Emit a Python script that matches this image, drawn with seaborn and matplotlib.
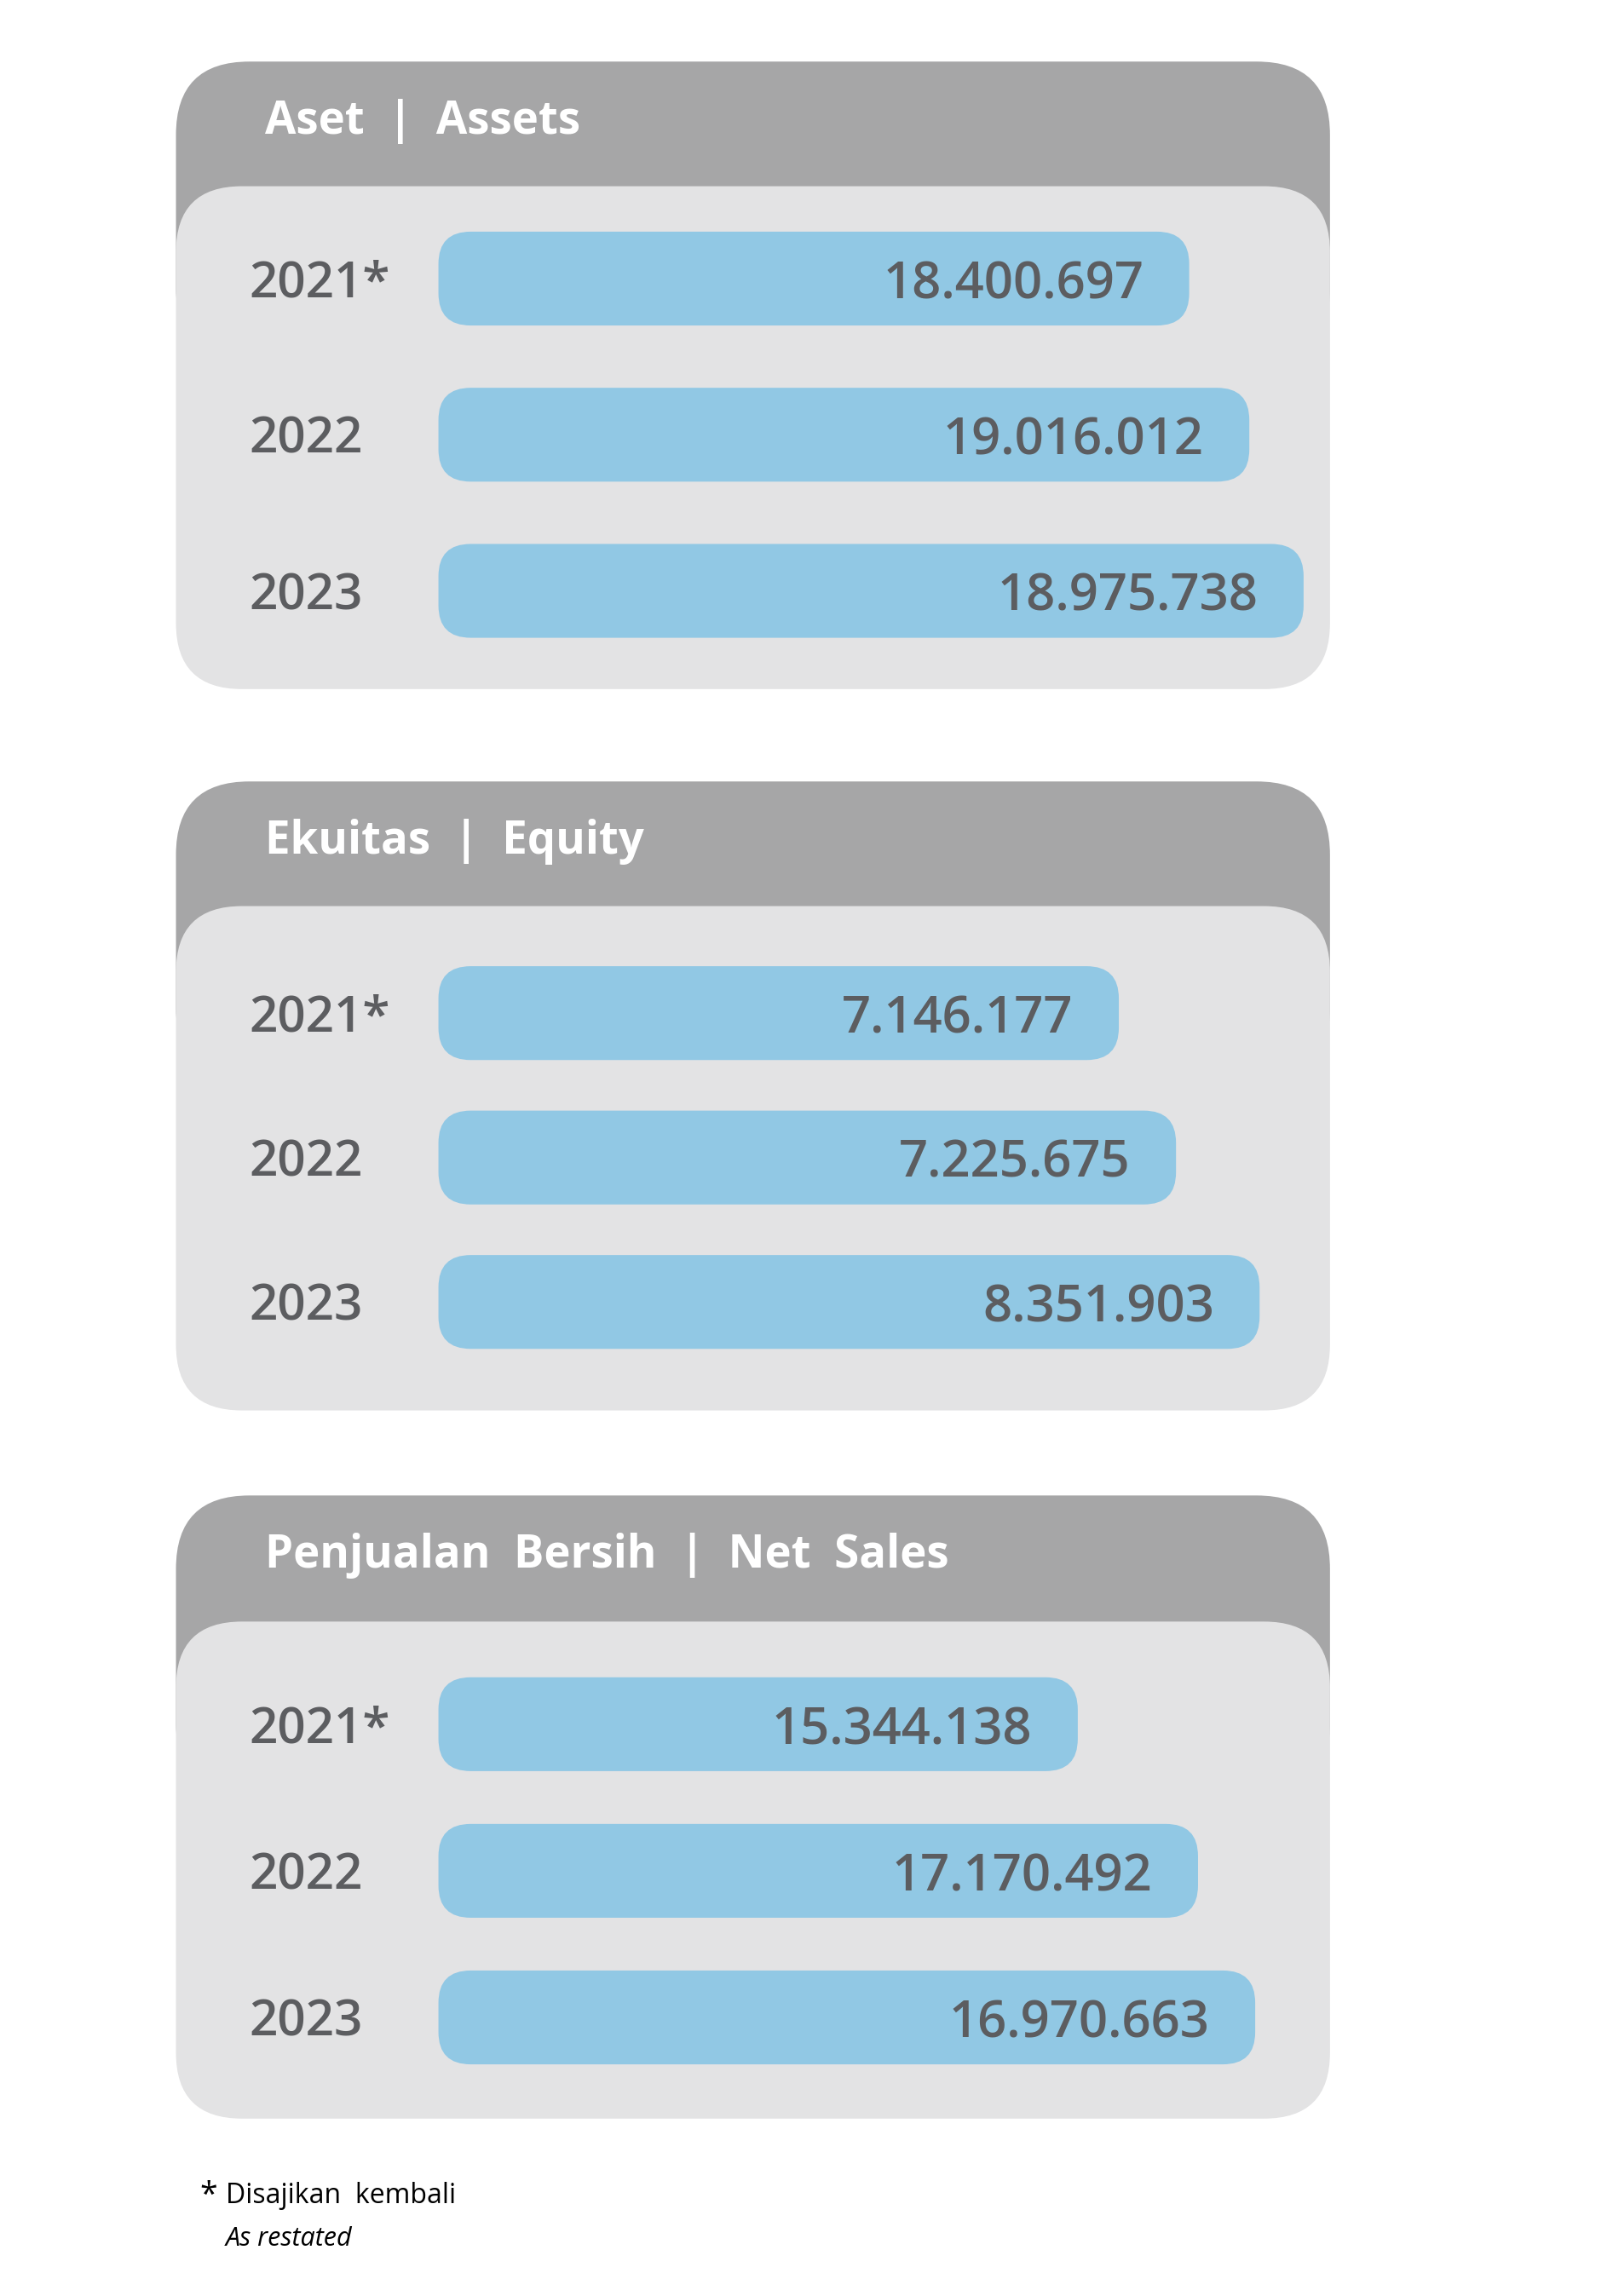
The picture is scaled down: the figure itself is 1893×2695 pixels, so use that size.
# ==========================================================
# Ikhtisar Keuangan | Financial Highlights (3 panels)
# ==========================================================

import matplotlib
matplotlib.use("Agg")
import matplotlib.pyplot as plt
from matplotlib.patches import FancyBboxPatch
import seaborn as sns

# ----------------------------------------------------------
# Data
# ----------------------------------------------------------
years = ["2021*", "2022", "2023"]

assets = ["18.400.697", "19.016.012", "18.975.738"]
equity = ["7.146.177", "7.225.675", "8.351.903"]
net_sales = ["15.344.138", "17.170.492", "16.970.663"]

# bar lengths as drawn in the picture (the infographic is not to scale)
assets_bar = [512, 553, 590]
equity_bar = [464, 503, 560]
net_sales_bar = [436, 518, 557]

titles = [
    "Aset  |  Assets",
    "Ekuitas  |  Equity",
    "Penjualan  Bersih  |  Net  Sales",
]

# ----------------------------------------------------------
# Style
# ----------------------------------------------------------
sns.set_style("white")
plt.rcParams["font.family"] = ["Open Sans", "DejaVu Sans"]

DARK = "#a6a6a7"
LIGHT = "#e3e3e4"
BAR = "#91c8e4"
TEXT = "#5c5d60"

# page in "display units": 1100 x 1566
W, H = 1100, 1566
fig = plt.figure(figsize=(18.93, 26.95), dpi=100)

bg = fig.add_axes([0, 0, 1, 1])
bg.set_xlim(0, W)
bg.set_ylim(H, 0)
bg.axis("off")

# panel layout: (dark top, light top, bottom, first bar centre, bar step)
panels = [
    (42, 127, 470, 190, 106.5),
    (533, 618, 962, 691, 98.5),
    (1020, 1106, 1445, 1176, 100.0),
]
values = [assets, equity, net_sales]
lengths = [assets_bar, equity_bar, net_sales_bar]

X0, X1 = 120, 907
BAR_X = 299
BAR_H = 64
HALF_CAP = 12.5   # half cap height of the labels, display units

for (top, ltop, bottom, c0, step), title, vals, lens in zip(
    panels, titles, values, lengths
):
    # dark header
    bg.add_patch(FancyBboxPatch(
        (X0, top), X1 - X0, (ltop - top) + 120,
        boxstyle="round,pad=0,rounding_size=50",
        facecolor=DARK, edgecolor="none", zorder=1,
    ))
    # light body
    bg.add_patch(FancyBboxPatch(
        (X0, ltop), X1 - X0, bottom - ltop,
        boxstyle="round,pad=0,rounding_size=45",
        facecolor=LIGHT, edgecolor="none", zorder=2,
    ))
    bg.text(181, top + 37 + 12, title, color="white", fontsize=38,
            fontweight="bold", ha="left", va="baseline", zorder=3)

    # bar axes over the light body
    ax = fig.add_axes([
        X0 / W, 1 - bottom / H, (X1 - X0) / W, (bottom - ltop) / H
    ])
    sns.barplot(x=lens, y=years, orient="h", color=BAR,
                width=BAR_H / step, ax=ax, saturation=1)
    ax.set_xlim(X0 - BAR_X, X1 - BAR_X)
    ax.set_ylim((bottom - c0) / step, (ltop - c0) / step)
    ax.axis("off")
    ax.patch.set_alpha(0)

    # rounded bars
    for p in list(ax.patches):
        x, y = p.get_x(), p.get_y()
        w, h = p.get_width(), p.get_height()
        p.remove()
        ax.add_patch(FancyBboxPatch(
            (x, y), w, h,
            boxstyle="round,pad=0,rounding_size=22",
            mutation_aspect=1 / step,
            facecolor=BAR, edgecolor="none", zorder=2,
        ))

    off = HALF_CAP / step
    for i, (yr, v, ln) in enumerate(zip(years, vals, lens)):
        ax.text(170 - BAR_X, i + off, yr, color=TEXT, fontsize=42,
                fontweight="semibold", ha="left", va="baseline")
        ax.text(ln - 31, i + off + 1 / step, v, color=TEXT, fontsize=43,
                fontweight="semibold", ha="right", va="baseline", zorder=3)

# ----------------------------------------------------------
# Footnote
# ----------------------------------------------------------
bg.text(136, 1498, "*", color="black", fontsize=27, ha="left", va="center")
bg.text(154, 1498, "Disajikan  kembali", color="black", fontsize=23,
        ha="left", va="center")
bg.text(154, 1527, "As restated", color="black", fontsize=22,
        style="italic", ha="left", va="center")

fig.savefig("out.png", dpi=100, facecolor="white")
